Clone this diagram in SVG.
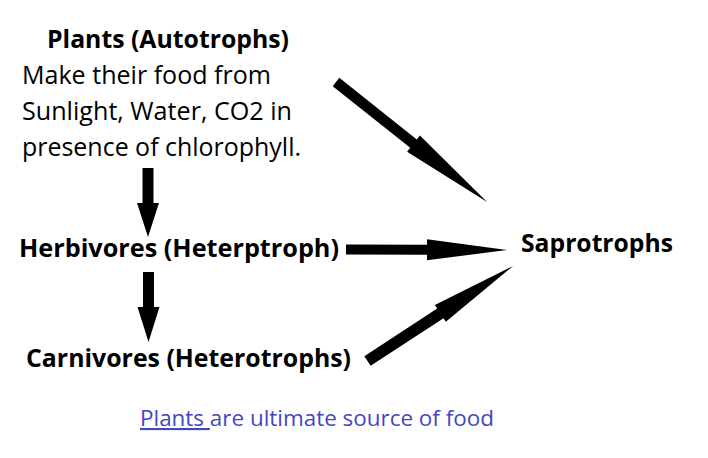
<svg xmlns="http://www.w3.org/2000/svg" width="708" height="458" viewBox="0 0 708 458">
<style>
.b{font-family:"Open Sans","Noto Sans",sans-serif;font-weight:bold;font-size:25px;fill:#000}
.r{font-family:"Open Sans","Noto Sans",sans-serif;font-size:25px;fill:#000}
.n{font-family:"Open Sans","Noto Sans",sans-serif;font-size:21px;fill:#4347bf}
.arr{fill:#000}
</style>
<rect width="708" height="458" fill="#fff"/>
<g id="plants">
<text class="b" x="47" y="48" textLength="242" lengthAdjust="spacingAndGlyphs">Plants (Autotrophs)</text>
<text class="r" x="22" y="84" textLength="249" lengthAdjust="spacingAndGlyphs">Make their food from</text>
<text class="r" x="22" y="120" textLength="270" lengthAdjust="spacingAndGlyphs">Sunlight, Water, CO2 in</text>
<text class="r" x="22" y="156" textLength="279" lengthAdjust="spacingAndGlyphs">presence of chlorophyll.</text>
</g>
<g id="herbivores">
<text class="b" x="19" y="257" textLength="320" lengthAdjust="spacingAndGlyphs">Herbivores (Heterptroph)</text>
</g>
<g id="carnivores">
<text class="b" x="26" y="367" textLength="325" lengthAdjust="spacingAndGlyphs">Carnivores (Heterotrophs)</text>
</g>
<g id="saprotrophs">
<text class="b" x="521" y="252" textLength="152" lengthAdjust="spacingAndGlyphs">Saprotrophs</text>
</g>
<g id="note">
<text class="n" x="140" y="426" textLength="354" lengthAdjust="spacingAndGlyphs"><tspan text-decoration="underline">Plants </tspan>are ultimate source of food</text>
</g>
<g id="connectors">
<polygon class="arr" transform="translate(148,168) rotate(90)" points="0,-5.5 35,-5.5 35,-11 69,0 35,11 35,5.5 0,5.5"/>
<polygon class="arr" transform="translate(148.5,272) rotate(90)" points="0,-5.5 35,-5.5 35,-11 70,0 35,11 35,5.5 0,5.5"/>
<polygon class="arr" transform="translate(346,249.5) rotate(0.18)" points="0,-5 81,-5 81,-10.5 161,0 81,10.5 81,5 0,5"/>
<polygon class="arr" transform="translate(336,82) rotate(38.47)" points="0,-5.3 99,-5.3 99,-10.3 193,0 99,10.3 99,5.3 0,5.3"/>
<polygon class="arr" transform="translate(367.5,361) rotate(-33.14)" points="0,-5.8 87,-5.8 87,-10 174,0 87,10 87,5.8 0,5.8"/>
</g>
</svg>
